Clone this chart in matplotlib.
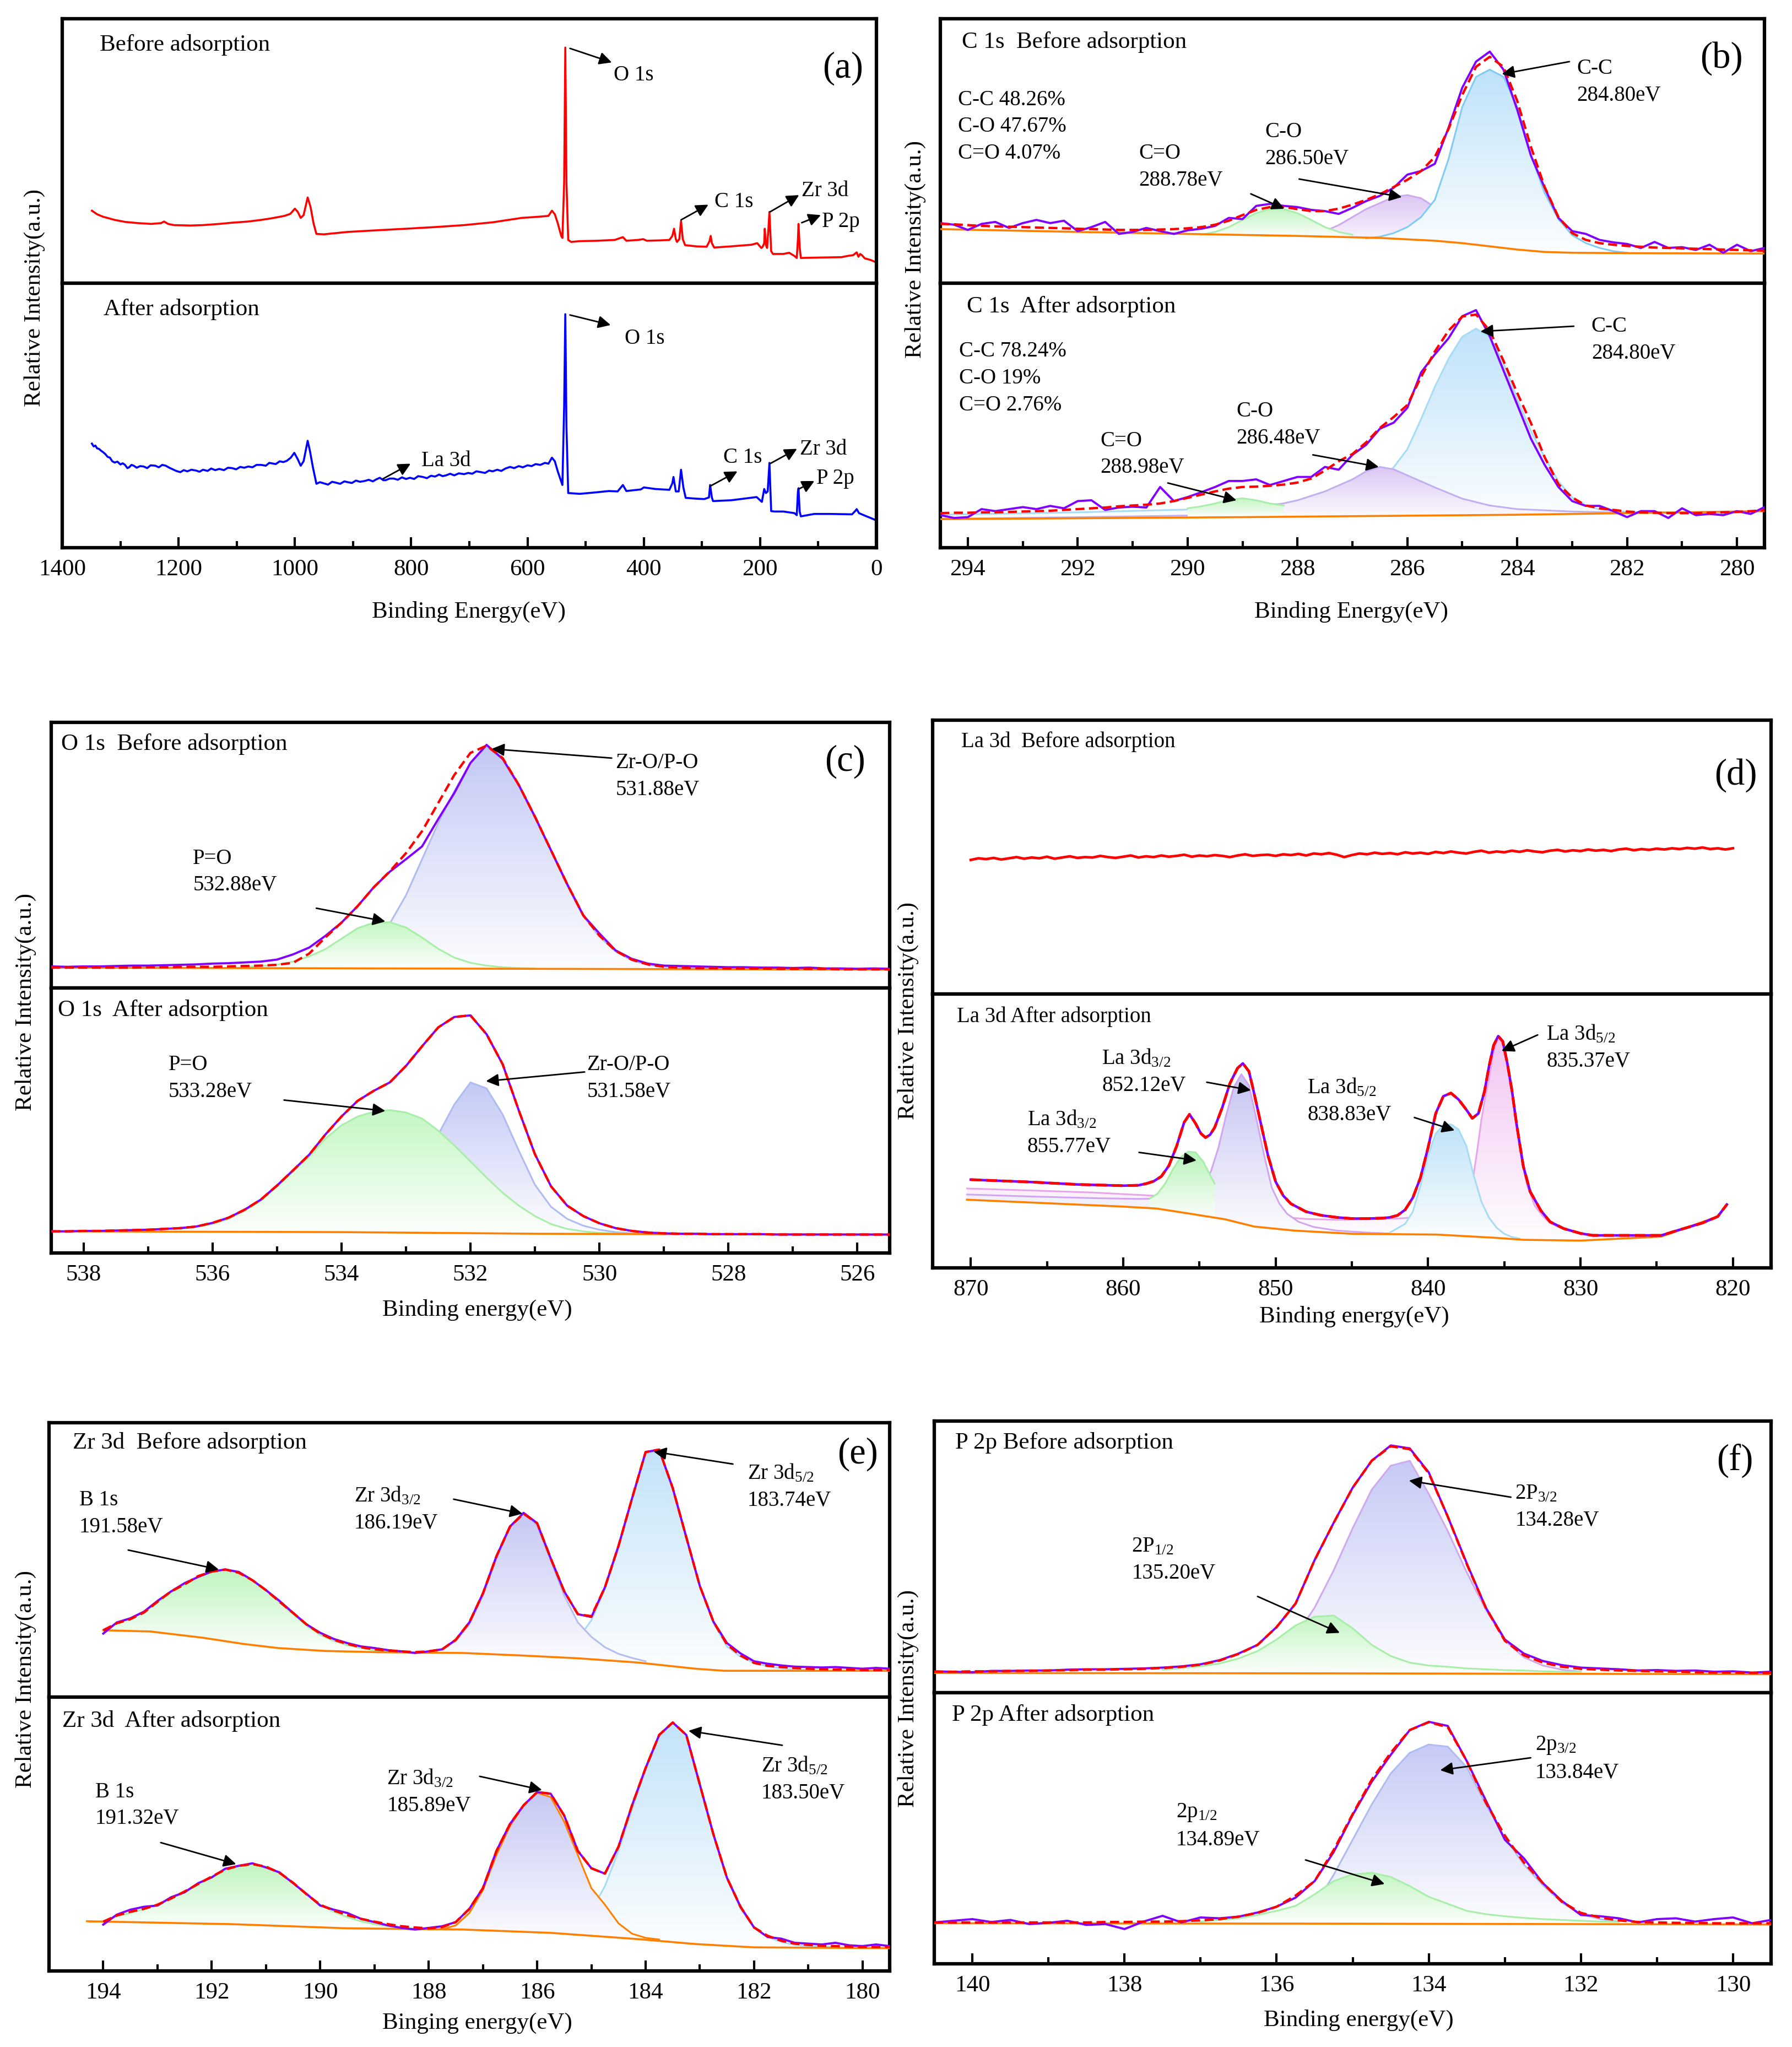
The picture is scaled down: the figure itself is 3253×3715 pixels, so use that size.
"""XPS spectra before / after adsorption: survey, C 1s, O 1s, La 3d, Zr 3d, P 2p."""

import numpy as np
import matplotlib

matplotlib.use("Agg")
import matplotlib.pyplot as plt
from matplotlib.colors import to_rgb
from matplotlib.patches import Polygon
from matplotlib.ticker import MultipleLocator

plt.rcParams["font.family"] = ["Liberation Serif", "DejaVu Serif"]
plt.rcParams["mathtext.fontset"] = "custom"
plt.rcParams["mathtext.rm"] = "Liberation Serif"
plt.rcParams["mathtext.it"] = "Liberation Serif:italic"

# ---------------------------------------------------------------- (a) survey
a_top_be = [1349, 1340, 1330, 1310, 1292, 1270, 1247, 1230, 1225, 1218,
            1208, 1180, 1158, 1130, 1108, 1080, 1058, 1040, 1018, 1008,
            1000, 995, 990, 985, 978, 973, 968, 963, 950, 930,
            909, 860, 809, 760, 709, 660, 610, 580, 564, 558,
            553, 548, 542, 540, 537, 535, 533, 530, 525, 510,
            480, 450, 436, 430, 410, 401, 395, 370, 356, 351,
            348, 345, 343, 339, 336, 333, 329, 310, 292, 287,
            285, 283, 279, 250, 215, 205, 198, 196, 193, 192,
            190, 188, 186, 184, 181, 178, 160, 150, 141, 137,
            135, 134, 132, 130, 100, 60, 50, 40, 34, 31,
            28, 25, 20, 10, 2]
a_top = [181, 172, 166, 158, 153, 150, 148, 150, 154, 148,
         145, 144, 145, 148, 151, 154, 158, 162, 168, 173,
         186, 178, 163, 170, 214, 190, 150, 123, 122, 125,
         128, 132, 136, 140, 145, 152, 163, 166, 168, 181,
         172, 150, 118, 113, 250, 588, 250, 108, 103, 105,
         106, 108, 115, 106, 108, 110, 106, 107, 108, 118,
         136, 110, 103, 110, 155, 110, 95, 92, 91, 105,
         118, 100, 89, 92, 96, 100, 88, 90, 100, 136,
         95, 88, 130, 178, 80, 73, 73, 76, 68, 63,
         110, 148, 90, 63, 64, 65, 68, 70, 77, 66,
         73, 70, 62, 58, 53]
a_bot_be = [1349, 1346, 1343, 1340, 1337, 1333, 1330, 1326, 1322, 1318,
            1314, 1310, 1305, 1300, 1296, 1292, 1288, 1285, 1281, 1277,
            1272, 1266, 1260, 1254, 1248, 1240, 1234, 1228, 1222, 1216,
            1210, 1204, 1197, 1191, 1185, 1178, 1170, 1164, 1158, 1150,
            1144, 1137, 1130, 1122, 1115, 1108, 1101, 1094, 1087, 1080,
            1073, 1066, 1058, 1050, 1044, 1040, 1033, 1026, 1020, 1014,
            1007, 1001, 995, 990, 985, 978, 974, 969, 963, 957,
            950, 943, 936, 930, 922, 915, 909, 902, 895, 888,
            880, 873, 866, 860, 854, 848, 844, 837, 830, 823,
            816, 809, 802, 795, 788, 780, 773, 766, 759, 752,
            746, 740, 733, 726, 718, 709, 702, 695, 688, 680,
            673, 666, 660, 652, 645, 638, 630, 623, 615, 608,
            600, 593, 586, 578, 570, 564, 558, 553, 548, 540,
            537, 535, 533, 530, 510, 480, 460, 445, 436, 430,
            405, 400, 380, 356, 351, 349, 345, 340, 336, 332,
            328, 310, 296, 288, 286, 283, 281, 250, 206, 200,
            197, 193, 190, 187, 184, 181, 175, 160, 141, 137,
            135, 134, 132, 130, 107, 80, 42, 36, 34, 30,
            22, 17, 10, 2]
a_bot = [259, 252, 254, 247, 246, 241, 238, 233, 226, 224,
         215, 212, 214, 207, 210, 206, 198, 200, 206, 204,
         199, 203, 202, 198, 205, 204, 200, 206, 204, 199,
         195, 191, 188, 193, 190, 194, 192, 189, 194, 191,
         197, 193, 196, 193, 199, 198, 195, 201, 199, 202,
         200, 206, 206, 204, 211, 210, 208, 215, 213, 216,
         224, 236, 220, 204, 215, 266, 240, 200, 159, 163,
         160, 157, 164, 162, 159, 165, 163, 161, 167, 164,
         166, 169, 165, 170, 174, 168, 168, 172, 172, 169,
         175, 171, 174, 171, 178, 176, 173, 179, 177, 182,
         178, 180, 184, 180, 185, 183, 186, 184, 190, 188,
         186, 192, 190, 194, 191, 197, 201, 198, 203, 200,
         205, 203, 208, 206, 211, 209, 224, 215, 190, 156,
         350, 581, 300, 136, 134, 138, 141, 140, 156, 141,
         145, 150, 146, 144, 160, 176, 140, 140, 194, 150,
         124, 122, 121, 125, 156, 125, 116, 118, 126, 118,
         114, 146, 136, 140, 211, 91, 90, 90, 86, 81,
         140, 148, 90, 78, 84, 84, 83, 92, 96, 86,
         81, 78, 74, 69]

# ---------------------------------------------------------------- (b) C 1s
b_grid = np.linspace(294.5, 279.5, 61)
b_top_raw = [150, 146, 133, 148, 153, 138, 150, 158, 150, 156,
             130, 140, 153, 123, 128, 138, 130, 123, 132, 136,
             143, 163, 160, 193, 198, 193, 190, 183, 180, 173,
             188, 205, 218, 238, 271, 280, 298, 388, 488, 553,
             578, 533, 433, 318, 238, 163, 130, 123, 108, 102,
             98, 88, 103, 88, 90, 83, 96, 76, 96, 80, 88]
b_top_fit = [148, 147, 145, 143, 142, 141, 140, 139, 138, 137,
             136, 135, 134, 133, 133, 133, 134, 135, 137, 140,
             146, 156, 170, 183, 190, 190, 185, 180, 180, 186,
             196, 208, 222, 240, 258, 280, 315, 385, 470, 540,
             565, 540, 455, 340, 240, 165, 125, 108, 100, 96,
             93, 91, 89, 88, 87, 86, 85, 84, 83, 82, 81]
b_top_bg_x = [294.5, 292, 290, 288, 286.5, 285.5, 285, 284.5, 284, 283.5, 283, 282, 279.5]
b_top_bg = [135, 128, 123, 118, 113, 106, 100, 92, 84, 78, 76, 75, 74]
b_top_cc_x = np.linspace(286.75, 282.0, 20)
b_top_cc = [112, 116, 125, 140, 165, 208, 310, 440, 515, 533,
            515, 440, 320, 225, 160, 120, 100, 88, 80, 76]
b_top_co_x = np.linspace(287.75, 284.25, 15)
b_top_co = [118, 130, 145, 165, 185, 200, 215, 220, 212, 190, 165, 140, 122, 108, 96]
b_top_c2o_x = np.linspace(289.75, 287.0, 12)
b_top_c2o = [121, 128, 140, 158, 175, 186, 185, 175, 158, 140, 128, 121]

b_bot_raw = [81, 74, 76, 96, 91, 96, 101, 96, 104, 98,
             116, 118, 94, 100, 102, 100, 151, 116, 126, 138,
             151, 166, 166, 170, 156, 166, 176, 176, 201, 194,
             231, 256, 296, 311, 348, 436, 481, 521, 576, 591,
             526, 441, 356, 271, 206, 151, 116, 104, 104, 91,
             76, 91, 91, 74, 98, 81, 84, 81, 91, 84, 101]
b_bot_fit = [86, 87, 87, 88, 88, 89, 90, 91, 92, 94,
             96, 98, 100, 103, 105, 107, 110, 116, 124, 132,
             140, 147, 151, 152, 154, 157, 162, 172, 192, 215,
             233, 262, 298, 325, 355, 425, 488, 540, 575, 580,
             540, 465, 385, 310, 225, 158, 125, 105, 98, 94,
             90, 88, 87, 86, 86, 86, 87, 88, 89, 91, 93]
b_bot_bg_x = [294.5, 289, 284, 279.5]
b_bot_bg = [71, 76, 82, 91]
b_bot_cc_x = [294.5, 292, 290, 289, 288, 287.5, 287, 286.5, 286.25, 286, 285.75, 285.5, 285.25,
              285, 284.75, 284.5, 284.25, 284, 283.75, 283.5, 283.25, 283, 282.75, 282.5, 282, 281, 279.5]
b_bot_cc = [82, 88, 95, 103, 112, 122, 140, 170, 200, 245, 320, 400, 470,
            525, 545, 525, 460, 370, 290, 225, 165, 125, 105, 95, 89, 88, 91]
b_bot_co_x = [294.5, 292, 290, 289, 288.5, 288, 287.5, 287, 286.75, 286.5,
              286.25, 286, 285.5, 285, 284.5, 284, 283, 282, 281]
b_bot_co = [72, 76, 80, 92, 103, 118, 140, 170, 190, 201, 195, 180, 150, 122, 105, 96, 90, 87, 87]
b_bot_c2o_x = np.linspace(290.0, 288.25, 8)
b_bot_c2o = [98, 103, 110, 119, 123, 118, 110, 105]

# ---------------------------------------------------------------- (c) O 1s
c_grid = np.linspace(538.5, 525.5, 53)
c_top_raw = [53, 52, 53, 53, 54, 55, 55, 56, 57, 58,
             60, 61, 63, 65, 70, 83, 100, 129, 162, 203,
             250, 289, 320, 352, 420, 485, 560, 605, 570, 505,
             426, 342, 258, 180, 135, 93, 72, 60, 55, 54,
             53, 52, 51, 51, 50, 50, 49, 50, 48, 48, 47, 48, 47]
c_top_fit = [50, 50, 50, 50, 50, 50, 51, 51, 52, 52,
             52, 53, 54, 55, 57, 62, 85, 125, 162, 203,
             250, 290, 335, 390, 460, 530, 585, 603, 572, 505,
             426, 342, 258, 180, 130, 92, 70, 58, 52, 50,
             49, 49, 48, 48, 48, 47, 47, 47, 47, 46, 46, 46, 46]
c_top_bg_x = [538.5, 531, 525.5]
c_top_bg = [50, 47, 45]
c_top_zr_x = np.linspace(534.5, 528.0, 27)
c_top_zr = [52, 55, 58, 70, 100, 160, 230, 320, 410, 490, 560, 600, 568, 503,
            424, 340, 255, 178, 127, 90, 68, 57, 52, 50, 48, 47, 47]
c_top_po_x = np.linspace(535.5, 531.0, 19)
c_top_po = [52, 54, 57, 65, 78, 96, 122, 148, 162, 163, 150, 125, 97, 75, 62, 55, 51, 49, 48]

c_bot_raw = [54, 54, 55, 55, 56, 57, 58, 60, 62, 66,
             75, 88, 108, 133, 168, 206, 245, 295, 340, 379,
             404, 425, 466, 515, 562, 588, 592, 545, 470, 355,
             246, 166, 118, 92, 74, 62, 55, 51, 49, 48,
             48, 47, 47, 47, 47, 46, 46, 46, 46, 46, 46, 46, 46]
c_bot_bg_x = [538.5, 534, 531, 529, 525.5]
c_bot_bg = [54, 52, 48, 47, 46]
c_bot_po_x = np.linspace(536.5, 529.0, 31)
c_bot_po = [60, 65, 72, 85, 105, 130, 165, 203, 240, 285, 318, 340, 352, 356, 350, 335,
            305, 268, 228, 188, 150, 118, 92, 72, 60, 54, 50, 49, 48, 47, 47]
c_bot_zr_x = np.linspace(533.5, 529.0, 19)
c_bot_zr = [80, 120, 170, 230, 295, 370, 425, 410, 345, 255, 170, 115, 85, 68, 58, 52, 49, 48, 47]

# ---------------------------------------------------------------- (d) La 3d
d_top_x = np.linspace(870, 820, 101)
d_top_raw = [334, 338, 336, 339, 335, 338, 341, 337, 340, 338,
             342, 337, 340, 343, 339, 341, 340, 344, 341, 339,
             342, 345, 340, 343, 341, 345, 342, 344, 347, 342,
             345, 343, 346, 344, 341, 345, 348, 344, 346, 347,
             344, 348, 346, 349, 345, 350, 348, 351, 347, 341,
             346, 350, 348, 352, 349, 351, 348, 353, 350, 352,
             349, 354, 351, 355, 352, 350, 354, 357, 352, 355,
             353, 357, 354, 358, 355, 353, 357, 359, 355, 358,
             356, 360, 357, 359, 356, 360, 362, 358, 361, 359,
             362, 360, 363, 361, 364, 362, 365, 361, 363, 360, 363]

d_bot_x = [870, 866, 863, 860, 859, 858.5, 858, 857.5, 857, 856.5,
           856, 855.65, 855.25, 854.9, 854.6, 854.3, 854, 853.5, 853, 852.5,
           852.15, 851.75, 851.5, 851.0, 850.5, 850, 849.5, 849, 848, 847,
           846, 845, 844, 843, 842.5, 842, 841.5, 841, 840.5, 840,
           839.5, 839, 838.5, 838, 837.5, 837.1, 836.7, 836.3, 836, 835.7,
           835.4, 835.1, 834.8, 834.5, 834.2, 833.75, 833.3, 832.6, 832, 831.1,
           830, 829.2, 826.2, 824.7, 823.5, 822, 821, 820.4]
d_bot_fit = [220, 214, 208, 205, 206, 210, 216, 228, 255, 303,
             363, 383, 360, 335, 325, 332, 350, 400, 460, 498,
             510, 490, 450, 365, 280, 215, 180, 160, 140, 131,
             126, 123, 123, 124, 126, 131, 145, 175, 225, 300,
             385, 428, 436, 420, 395, 373, 385, 440, 503, 555,
             578, 565, 510, 443, 360, 253, 190, 143, 115, 98,
             86, 81, 81, 81, 95, 112, 128, 158]
d_bot_bg_x = [870.25, 860.1, 857.8, 855.6, 853.3, 851.4, 848.8, 845, 839.4, 835.6,
              833.75, 830, 824.7, 821, 820.4]
d_bot_bg = [170, 153, 148, 135, 121, 103, 93, 85, 83, 75, 70, 68, 78, 128, 158]
d_852_x = [870.25, 866, 862, 859, 857.5, 856.5, 855.5, 854.75, 854.25, 853.75, 853.25, 852.75,
           852.25, 851.75, 851.25, 850.75, 850.25, 849.75, 849.25, 848.5, 847.5, 846, 844, 842, 841]
d_852 = [183, 178, 174, 172, 173, 178, 188, 205, 240, 300, 380, 450,
         483, 455, 370, 280, 200, 160, 135, 115, 102, 93, 88, 85, 85]
d_855_x = [858.25, 857.75, 857.25, 856.75, 856.25, 855.75, 855.25, 854.75, 854.25, 854.0]
d_855 = [173, 185, 210, 245, 275, 290, 288, 265, 228, 210]
d_838_x = [842.5, 841.5, 841, 840.5, 840, 839.5, 839, 838.5, 838, 837.5, 837, 836.5, 836,
           835.5, 835, 834.5, 834]
d_838 = [88, 110, 140, 205, 280, 335, 355, 358, 345, 305, 230, 165, 125, 100, 85, 77, 73]
d_835_x = [870.25, 866, 862, 858, 856, 854, 852, 850, 848, 846,
           844, 842, 840.5, 839, 838, 837.5, 837, 836.75, 836.5, 836.25,
           836, 835.75, 835.5, 835.25, 835, 834.75, 834.5, 834.25, 834, 833.75,
           833.5, 833, 832.5, 832, 831.5, 831, 830, 829, 828, 826,
           825, 824, 823, 822, 821, 820.4]
d_835 = [198, 193, 188, 180, 170, 158, 140, 128, 122, 120,
         121, 123, 127, 140, 165, 190, 235, 300, 370, 425,
         470, 530, 565, 570, 545, 500, 440, 365, 300, 250,
         205, 155, 130, 112, 103, 96, 86, 82, 81, 81,
         80, 88, 101, 114, 128, 158]

# ---------------------------------------------------------------- (e) Zr 3d
e_grid = np.linspace(194.0, 179.5, 59)
e_top_raw = [153, 180, 190, 206, 232, 255, 275, 290, 303, 308,
             302, 282, 258, 232, 203, 175, 155, 140, 130, 122,
             118, 113, 110, 106, 110, 115, 138, 180, 250, 340,
             412, 445, 420, 335, 255, 200, 193, 265, 365, 480,
             592, 598, 505, 386, 268, 182, 130, 105, 86, 80,
             76, 73, 72, 71, 72, 70, 68, 70, 68]
e_top_fit = [161, 178, 188, 204, 230, 255, 272, 292, 303, 308,
             300, 282, 258, 230, 203, 175, 153, 138, 128, 120,
             115, 112, 110, 108, 110, 115, 138, 180, 250, 340,
             412, 443, 420, 335, 255, 200, 195, 265, 365, 480,
             592, 598, 505, 386, 268, 182, 127, 100, 82, 75,
             72, 70, 68, 67, 66, 66, 65, 65, 65]
e_top_bg_x = [194, 193.13, 192.17, 191.42, 190.78, 189.92, 188.96, 187.36, 186.29, 185.22,
              184.15, 183.08, 182.55, 179.5]
e_top_bg = [161, 158, 143, 128, 118, 111, 108, 106, 100, 93, 83, 68, 63, 63]
e_top_b_x = np.linspace(194.0, 188.5, 23)
e_top_b = [161, 178, 188, 204, 228, 252, 272, 290, 303, 308, 300, 283, 258, 228, 200, 172,
           150, 135, 125, 118, 112, 109, 108]
e_top_z3_x = np.linspace(187.75, 184.0, 16)
e_top_z3 = [115, 135, 175, 245, 335, 410, 443, 415, 330, 245, 180, 145, 120, 104, 94, 86]
e_top_z5_x = np.linspace(185.5, 181.0, 19)
e_top_z5 = [110, 140, 185, 260, 360, 478, 588, 596, 505, 386, 268, 178, 122, 97, 82, 74, 69, 66, 65]

e_bot_raw = [112, 136, 148, 155, 158, 178, 190, 212, 226, 247,
             254, 260, 250, 238, 212, 186, 158, 148, 140, 126,
             118, 110, 104, 100, 104, 108, 118, 150, 200, 290,
             355, 400, 432, 428, 375, 290, 248, 235, 300, 400,
             490, 570, 600, 570, 450, 330, 225, 155, 105, 82,
             78, 68, 66, 64, 68, 62, 60, 64, 60]
e_bot_fit = [119, 134, 143, 150, 160, 175, 192, 210, 228, 245,
             254, 258, 252, 237, 213, 185, 160, 146, 135, 126,
             119, 113, 108, 105, 103, 106, 118, 150, 200, 290,
             355, 400, 432, 428, 375, 290, 248, 235, 300, 400,
             490, 570, 600, 570, 450, 330, 225, 155, 105, 85,
             73, 66, 63, 61, 60, 59, 58, 58, 58]
e_bot_bg_x = [194.3, 191.63, 189.5, 187.36, 185.75, 184.15, 183.08, 182.0, 179.5]
e_bot_bg = [120, 113, 103, 100, 92, 77, 65, 57, 55]
e_bot_b_x = np.linspace(194.25, 188.25, 25)
e_bot_b = [118, 120, 132, 140, 150, 160, 175, 192, 210, 228, 245, 254, 258, 252, 237, 213,
           185, 160, 143, 130, 120, 113, 108, 104, 102]
e_bot_z3_x = np.linspace(188.0, 183.75, 18)
e_bot_z3 = [100, 101, 110, 140, 195, 280, 350, 400, 430, 420, 360, 280, 200, 160, 115, 90, 80, 76]
e_bot_z5_x = np.linspace(185.25, 180.5, 20)
e_bot_z5 = [110, 145, 205, 290, 390, 485, 565, 600, 570, 450, 330, 225, 150, 105, 82, 70, 63, 60, 59, 58]

# ---------------------------------------------------------------- (f) P 2p
f_grid = np.linspace(140.5, 129.5, 45)
f_top_raw = [51, 50, 49, 52, 52, 53, 53, 55, 56, 56,
             57, 58, 60, 63, 68, 78, 94, 115, 158, 215,
             320, 410, 495, 560, 597, 590, 532, 425, 312, 205,
             128, 94, 76, 66, 60, 58, 56, 53, 54, 52,
             53, 50, 51, 48, 50]
f_top_fit = [50, 50, 51, 51, 52, 52, 53, 54, 55, 55,
             56, 57, 59, 62, 67, 77, 93, 115, 158, 215,
             320, 410, 495, 560, 595, 588, 530, 425, 310, 205,
             125, 90, 72, 62, 57, 55, 53, 52, 51, 50,
             49, 48, 48, 47, 47]
f_top_bg_x = [140.5, 135, 129.5]
f_top_bg = [47, 46, 44]
f_top_p3_x = np.linspace(136.5, 132.0, 19)
f_top_p3 = [55, 67, 92, 136, 205, 295, 397, 490, 548, 560, 480, 390, 290, 200, 125, 85, 65, 55, 50]
f_top_p1_x = np.linspace(137.5, 132.0, 23)
f_top_p1 = [55, 59, 63, 70, 82, 100, 128, 162, 183, 186, 155, 115, 88, 72, 65, 62, 58, 56, 54,
            53, 51, 50, 50]

f_bot_raw = [100, 104, 108, 101, 106, 96, 99, 104, 94, 96,
             84, 102, 116, 100, 112, 110, 114, 124, 138, 160,
             200, 270, 360, 440, 505, 565, 585, 575, 490, 395,
             300, 255, 195, 152, 118, 115, 110, 100, 108, 110,
             102, 108, 112, 98, 106]
f_bot_fit = [100, 100, 100, 100, 100, 100, 100, 100, 100, 101,
             101, 102, 102, 103, 105, 108, 114, 123, 138, 165,
             200, 275, 362, 445, 510, 565, 584, 572, 490, 390,
             310, 245, 195, 150, 123, 112, 105, 101, 100, 99,
             99, 98, 98, 98, 98]
f_bot_bg_x = [140.5, 135, 129.5]
f_bot_bg = [98, 97, 95]
f_bot_p3_x = np.linspace(136.0, 131.5, 19)
f_bot_p3 = [100, 110, 140, 215, 300, 385, 460, 510, 530, 525, 475, 385, 305, 240, 190, 148,
            120, 108, 102]
f_bot_p1_x = np.linspace(137.0, 131.5, 23)
f_bot_p1 = [102, 106, 110, 118, 128, 140, 168, 200, 216, 220, 210, 188, 162, 145, 128, 120,
            115, 111, 108, 106, 104, 102, 101]

# ---------------------------------------------------------------- drawing
W, H = 3253, 3716
RAW, FIT, BG = "#8000ff", "#ff0000", "#ff8000"

fig = plt.figure(figsize=(W / 100, H / 100), dpi=100)
limits = []


def make_panel(box, xlim, major, minor, ylims):
    left, right, top, bottom = box
    mid = (top + bottom) / 2
    ax_t = fig.add_axes([left / W, 1 - mid / H, (right - left) / W, (mid - top) / H])
    ax_b = fig.add_axes([left / W, 1 - bottom / H, (right - left) / W, (bottom - mid) / H])
    for ax, ylim in zip((ax_t, ax_b), ylims):
        ax.set_yticks([])
        for s in ax.spines.values():
            s.set_linewidth(4.5)
        ax.xaxis.set_major_locator(MultipleLocator(major))
        ax.xaxis.set_minor_locator(MultipleLocator(minor))
        limits.append((ax, xlim, (0, ylim)))
    ax_t.tick_params(axis="x", which="both", bottom=False, labelbottom=False)
    ax_b.tick_params(axis="x", which="major", direction="in", length=14, width=3,
                     labelsize=31, pad=14)
    ax_b.tick_params(axis="x", which="minor", direction="in", length=9, width=3)
    return ax_t, ax_b


def shade(ax, x, y, bx, by, line, fill, z):
    x = np.asarray(x, float)
    y = np.asarray(y, float)
    bx = np.asarray(bx, float)
    by = np.asarray(by, float)
    base = np.minimum(np.interp(x, bx[::-1], by[::-1]), y)
    verts = np.column_stack([np.r_[x, x[::-1]], np.r_[y, base[::-1]]])
    poly = Polygon(verts, closed=True, fc="none", ec="none")
    ax.add_patch(poly)
    t = np.linspace(0.04, 1, 256)[:, None]
    img = (1 - t) + t * np.array(to_rgb(fill))[None, :]
    im = ax.imshow(img[:, None, :], extent=[x.min(), x.max(), base.min(), y.max()],
                   origin="lower", aspect="auto", zorder=z, interpolation="bilinear")
    im.set_clip_path(poly)
    ax.plot(x, y, color=line, lw=2.2, zorder=z + 0.5)


def spectra(ax, x, raw, fit, bx, by, lw=2.8):
    ax.plot(bx, by, color=BG, lw=2.6, zorder=5)
    ax.plot(x, raw, color=RAW, lw=lw, zorder=6)
    ax.plot(x, fit, color=FIT, lw=lw + 0.3, dashes=(3.8, 1.9), zorder=7)


def note(ax, xf, yf, s, size=28):
    ax.text(xf, yf, s, transform=ax.transAxes, fontsize=size, ha="left", va="center",
            linespacing=1.42, zorder=10)


def arrow(ax, tail, head):
    ax.annotate("", xy=head, xytext=tail, zorder=10,
                arrowprops=dict(arrowstyle="-|>", color="black", lw=2, mutation_scale=34,
                                shrinkA=0, shrinkB=0))


def letter(ax, xf, yf, s):
    ax.text(xf, yf, s, transform=ax.transAxes, fontsize=48, ha="center", va="center")


def sub(s):
    return r"$_{\mathregular{" + s + "}}$"


# (a) survey
ta, ba = make_panel((113, 1591, 35, 995), (1400, 0), 200, 100, (660, 658))
ta.plot(a_top_be, a_top, color="#ff0000", lw=2.6)
ba.plot(a_bot_be, a_bot, color="#0000ff", lw=2.6)
note(ta, 0.046, 0.903, "Before adsorption", 31)
note(ba, 0.0505, 0.903, "After adsorption", 31)
letter(ta, 0.959, 0.815, "(a)")
for ax, txt, xf, yf, tail, head in [
    (ta, "O 1s", 0.677, 0.789, (527, 586), (455, 551)),
    (ta, "C 1s", 0.801, 0.31, (336, 158), (289, 196)),
    (ta, "Zr 3d", 0.908, 0.351, (183, 178), (133, 220)),
    (ta, "P 2p", 0.933, 0.235, (128.5, 151), (95.6, 170)),
    (ba, "O 1s", 0.691, 0.792, (527, 579), (457, 554)),
    (ba, "La 3d", 0.441, 0.331, (849, 171), (801, 209)),
    (ba, "C 1s", 0.812, 0.343, (286, 153), (239, 190)),
    (ba, "Zr 3d", 0.906, 0.374, (183, 209), (136.5, 246)),
    (ba, "P 2p", 0.926, 0.263, (133.5, 146), (106.6, 166)),
]:
    note(ax, xf, yf, txt)
    arrow(ax, tail, head)

# (b) C 1s -- the C-C band sits over the C-O band
tb, bb = make_panel((1707, 3203, 35, 995), (294.5, 279.5), 2, 1, (660, 658))
shade(tb, b_top_co_x, b_top_co, b_top_bg_x, b_top_bg, "#cfa9ee", "#dcc6f4", 1)
shade(tb, b_top_cc_x, b_top_cc, b_top_bg_x, b_top_bg, "#7fcbf4", "#bfe2fa", 2)
shade(tb, b_top_c2o_x, b_top_c2o, b_top_bg_x, b_top_bg, "#a9eeaa", "#c4f5c4", 3)
spectra(tb, b_grid, b_top_raw, b_top_fit, b_top_bg_x, b_top_bg)
shade(bb, b_bot_cc_x, b_bot_cc, b_bot_bg_x, b_bot_bg, "#a6dcf6", "#bfe2fa", 1)
shade(bb, b_bot_co_x, b_bot_co, b_bot_bg_x, b_bot_bg, "#c0b0f0", "#dcc6f4", 2)
shade(bb, b_bot_c2o_x, b_bot_c2o, b_bot_bg_x, b_bot_bg, "#a9eeaa", "#c4f5c4", 3)
spectra(bb, b_grid, b_bot_raw, b_bot_fit, b_bot_bg_x, b_bot_bg)
note(tb, 0.026, 0.914, "C 1s  Before adsorption", 31)
note(tb, 0.0216, 0.594, "C-C 48.26%\nC-O 47.67%\nC=O 4.07%")
note(tb, 0.241, 0.442, "C=O\n288.78eV")
note(tb, 0.394, 0.523, "C-O\n286.50eV")
note(tb, 0.772, 0.762, "C-C\n284.80eV")
arrow(tb, (288.85, 223), (288.24, 186))
arrow(tb, (287.97, 260), (286.1, 215))
arrow(tb, (283.05, 553), (284.28, 522))
letter(tb, 0.948, 0.853, "(b)")
note(bb, 0.032, 0.913, "C 1s  After adsorption", 31)
note(bb, 0.023, 0.643, "C-C 78.24%\nC-O 19%\nC=O 2.76%")
note(bb, 0.194, 0.355, "C=O\n288.98eV")
note(bb, 0.359, 0.467, "C-O\n286.48eV")
note(bb, 0.79, 0.787, "C-C\n284.80eV")
arrow(bb, (290.36, 161), (289.11, 118))
arrow(bb, (287.72, 231), (286.52, 201))
arrow(bb, (282.97, 551), (284.67, 538))

# (c) O 1s
tc, bc = make_panel((93, 1615, 1312, 2275), (538.5, 525.5), 2, 1, (661, 661))
shade(tc, c_top_zr_x, c_top_zr, c_top_bg_x, c_top_bg, "#aebcf0", "#c3c9f5", 1)
shade(tc, c_top_po_x, c_top_po, c_top_bg_x, c_top_bg, "#a8eea8", "#c4f7c4", 2)
spectra(tc, c_grid, c_top_raw, c_top_fit, c_top_bg_x, c_top_bg)
shade(bc, c_bot_zr_x, c_bot_zr, c_bot_bg_x, c_bot_bg, "#aebcf0", "#c3c9f5", 1)
shade(bc, c_bot_po_x, c_bot_po, c_bot_bg_x, c_bot_bg, "#a8eea8", "#c4f7c4", 2)
spectra(bc, c_grid, c_bot_raw, c_bot_raw, c_bot_bg_x, c_bot_bg)
note(tc, 0.012, 0.92, "O 1s  Before adsorption", 31)
note(tc, 0.673, 0.798, "Zr-O/P-O\n531.88eV")
note(tc, 0.169, 0.438, "P=O\n532.88eV")
arrow(tc, (529.81, 572), (531.67, 595))
arrow(tc, (534.39, 198), (533.32, 165))
letter(tc, 0.947, 0.855, "(c)")
note(bc, 0.008, 0.917, "O 1s  After adsorption", 31)
note(bc, 0.14, 0.66, "P=O\n533.28eV")
note(bc, 0.639, 0.66, "Zr-O/P-O\n531.58eV")
arrow(bc, (534.89, 381), (533.32, 354))
arrow(bc, (530.23, 451), (531.76, 428))

# (d) La 3d
td, bd = make_panel((1693, 3215, 1308, 2302), (872.5, 817.5), 10, 5, (682, 683))
td.plot(d_top_x, d_top_raw, color="#ff0000", lw=3.4)
shade(bd, d_835_x, d_835, d_bot_bg_x, d_bot_bg, "#e8a6ea", "#f2c6f2", 1)
shade(bd, d_852_x, d_852, d_bot_bg_x, d_bot_bg, "#d2a6ef", "#c6c4f2", 2)
shade(bd, d_838_x, d_838, d_bot_bg_x, d_bot_bg, "#a6dcf5", "#bfe3f8", 3)
shade(bd, d_855_x, d_855, d_bot_bg_x, d_bot_bg, "#a8eea8", "#b8f2b8", 4)
spectra(bd, d_bot_x, d_bot_fit, d_bot_fit, d_bot_bg_x, d_bot_bg, lw=3.3)
note(td, 0.034, 0.924, "La 3d  Before adsorption")
letter(td, 0.958, 0.80, "(d)")
note(bd, 0.029, 0.919, "La 3d After adsorption")
note(bd, 0.202, 0.718, "La 3d" + sub("3/2") + "\n852.12eV")
note(bd, 0.113, 0.494, "La 3d" + sub("3/2") + "\n855.77eV")
note(bd, 0.447, 0.611, "La 3d" + sub("5/2") + "\n838.83eV")
note(bd, 0.732, 0.806, "La 3d" + sub("5/2") + "\n835.37eV")
arrow(bd, (854.52, 463), (851.62, 443))
arrow(bd, (858.96, 288), (855.19, 268))
arrow(bd, (840.9, 375), (838.26, 343))
arrow(bd, (832.81, 581), (835.18, 541))

# (e) Zr 3d
te, be_ = make_panel((89, 1615, 2583, 3578), (195.0, 179.5), 2, 1, (663, 662))
shade(te, e_top_z5_x, e_top_z5, e_top_bg_x, e_top_bg, "#a8dcf5", "#c3e3f9", 1)
shade(te, e_top_z3_x, e_top_z3, e_top_bg_x, e_top_bg, "#b4bcf0", "#c6c8f4", 2)
shade(te, e_top_b_x, e_top_b, e_top_bg_x, e_top_bg, "#a8eea8", "#c0f5c0", 3)
spectra(te, e_grid, e_top_raw, e_top_fit, e_top_bg_x, e_top_bg)
shade(be_, e_bot_z5_x, e_bot_z5, e_bot_bg_x, e_bot_bg, "#a8dcf5", "#c3e3f9", 1)
shade(be_, e_bot_z3_x, e_bot_z3, e_bot_bg_x, e_bot_bg, BG, "#c6c8f4", 2)
shade(be_, e_bot_b_x, e_bot_b, e_bot_bg_x, e_bot_bg, "#a8eea8", "#c0f5c0", 3)
spectra(be_, e_grid, e_bot_raw, e_bot_fit, e_bot_bg_x, e_bot_bg)
note(te, 0.028, 0.929, "Zr 3d  Before adsorption", 31)
note(te, 0.036, 0.67, "B 1s\n191.58eV")
note(te, 0.363, 0.685, "Zr 3d" + sub("3/2") + "\n186.19eV")
note(te, 0.831, 0.768, "Zr 3d" + sub("5/2") + "\n183.74eV")
arrow(te, (193.54, 355), (191.87, 308))
arrow(te, (187.54, 478), (186.27, 443))
arrow(te, (182.39, 563), (183.85, 593))
letter(te, 0.962, 0.887, "(e)")
note(be_, 0.016, 0.914, "Zr 3d  After adsorption", 31)
note(be_, 0.055, 0.606, "B 1s\n191.32eV")
note(be_, 0.402, 0.655, "Zr 3d" + sub("3/2") + "\n185.89eV")
note(be_, 0.847, 0.70, "Zr 3d" + sub("5/2") + "\n183.50eV")
arrow(be_, (192.94, 310), (191.55, 258))
arrow(be_, (187.06, 470), (185.91, 437))
arrow(be_, (181.48, 545), (183.21, 580))

# (f) P 2p
tf, bf = make_panel((1696, 3215, 2580, 3565), (140.5, 129.5), 2, 1, (656, 656))
shade(tf, f_top_p3_x, f_top_p3, f_top_bg_x, f_top_bg, "#d0a8ee", "#c6caf5", 1)
shade(tf, f_top_p1_x, f_top_p1, f_top_bg_x, f_top_bg, "#a8eea8", "#c4f5c4", 2)
spectra(tf, f_grid, f_top_raw, f_top_fit, f_top_bg_x, f_top_bg)
shade(bf, f_bot_p3_x, f_bot_p3, f_bot_bg_x, f_bot_bg, "#aebcf0", "#c6caf5", 1)
shade(bf, f_bot_p1_x, f_bot_p1, f_bot_bg_x, f_bot_bg, "#a8eea8", "#c4f5c4", 2)
spectra(bf, f_grid, f_bot_raw, f_bot_fit, f_bot_bg_x, f_bot_bg)
note(tf, 0.025, 0.921, "P 2p Before adsorption", 31)
note(tf, 0.236, 0.491, "2P" + sub("1/2") + "\n135.20eV")
note(tf, 0.694, 0.685, "2P" + sub("3/2") + "\n134.28eV")
arrow(tf, (136.25, 232), (135.17, 144))
arrow(tf, (132.92, 472), (134.26, 512))
letter(tf, 0.957, 0.857, "(f)")
note(bf, 0.021, 0.919, "P 2p After adsorption", 31)
note(bf, 0.289, 0.51, "2p" + sub("1/2") + "\n134.89eV")
note(bf, 0.718, 0.757, "2p" + sub("3/2") + "\n133.84eV")
arrow(bf, (135.62, 251), (134.58, 193))
arrow(bf, (132.66, 498), (133.85, 468))

for ax, xl, yl in limits:
    ax.set_xlim(*xl)
    ax.set_ylim(*yl)

# axis titles placed in figure pixels
for xp, yp, txt in [(851, 1110, "Binding Energy(eV)"), (2453, 1110, "Binding Energy(eV)"),
                    (866, 2377, "Binding energy(eV)"), (2458, 2389, "Binding energy(eV)"),
                    (866, 3672, "Binging energy(eV)"), (2466, 3666, "Binding energy(eV)")]:
    fig.text(xp / W, 1 - yp / H, txt, fontsize=31, ha="center", va="center")
for xp, yp in [(63, 541), (1662, 453), (47, 1819), (1649, 1835), (47, 3048), (1649, 3082)]:
    fig.text(xp / W, 1 - yp / H, "Relative Intensity(a.u.)", fontsize=31, rotation=90,
             ha="center", va="center")

fig.savefig("out.png", dpi=100, facecolor="white")
plt.close(fig)
